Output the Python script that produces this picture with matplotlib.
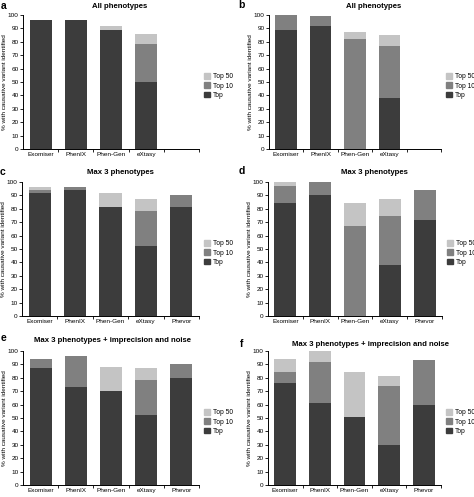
import matplotlib
matplotlib.use("Agg")
import matplotlib.pyplot as plt
from matplotlib.patches import Patch

plt.rcParams['font.family'] = ['Liberation Sans', 'DejaVu Sans']

# ---- data (cumulative % identified) ----
tools4 = ["Exomiser", "PhenIX", "Phen-Gen", "eXtasy"]
tools5 = ["Exomiser", "PhenIX", "Phen-Gen", "eXtasy", "Phevor"]

a_top   = [96, 96, 89, 50]
a_top10 = [96, 96, 89, 78]
a_top50 = [96, 96, 92, 86]

b_top   = [89, 92, 0, 38]
b_top10 = [100, 99, 82, 77]
b_top50 = [100, 99, 87, 85]

c_top   = [92, 94, 81, 52, 81]
c_top10 = [94, 96, 81, 78, 90]
c_top50 = [96, 96.5, 92, 87, 90]

d_top   = [84, 90, 0, 38, 72]
d_top10 = [97, 100, 67, 75, 94]
d_top50 = [100, 100, 84, 87, 94]

e_top   = [87, 73, 70, 52, 80]
e_top10 = [94, 96, 70, 78, 90]
e_top50 = [94, 96, 88, 87, 90]

f_top   = [76, 61, 51, 30, 60]
f_top10 = [84, 92, 51, 74, 93]
f_top50 = [94, 100, 84, 81, 93]

titles = ["All phenotypes", "All phenotypes",
          "Max 3 phenotypes", "Max 3 phenotypes",
          "Max 3 phenotypes + imprecision and noise",
          "Max 3 phenotypes + imprecision and noise"]
letters = ["a", "b", "c", "d", "e", "f"]
legend_labels = ["Top 50", "Top 10", "Top"]
yticks = list(range(0, 101, 10))

C_TOP = "#3c3c3c"
C_T10 = "#808080"
C_T50 = "#c4c4c4"

W, H = 474, 497
fig = plt.figure(figsize=(W / 100, H / 100), dpi=100)

# axes boxes in pixels: left, right, top(y=100), bottom(y=0)
boxes = [
    (23, 199, 15, 149),
    (269, 441, 15, 149),
    (22, 199, 182, 316),
    (268, 442, 182, 316),
    (23, 199, 351, 485),
    (268, 441, 351, 485),
]
title_pos = [(120, 7), (374, 7), (120, 173), (374, 173), (112, 341), (370, 345)]
letter_pos = [(1, 6), (238, 5), (0, 172), (239, 171), (1, 338), (240, 344)]

panels = [
    (tools4, a_top, a_top10, a_top50),
    (tools4, b_top, b_top10, b_top50),
    (tools5, c_top, c_top10, c_top50),
    (tools5, d_top, d_top10, d_top50),
    (tools5, e_top, e_top10, e_top50),
    (tools5, f_top, f_top10, f_top50),
]

for i, (tools, top, t10, t50) in enumerate(panels):
    l, r, t, b = boxes[i]
    ax = fig.add_axes([l / W, 1 - b / H, (r - l) / W, (b - t) / H])
    x = list(range(len(tools)))
    inc10 = [v10 - v for v, v10 in zip(top, t10)]
    inc50 = [v50 - v10 for v10, v50 in zip(t10, t50)]
    bw = 0.63
    ax.bar(x, top, width=bw, color=C_TOP, linewidth=0)
    ax.bar(x, inc10, bottom=top, width=bw, color=C_T10, linewidth=0)
    ax.bar(x, inc50, bottom=t10, width=bw, color=C_T50, linewidth=0)
    ax.set_xlim(-0.5, 4.5)
    ax.set_ylim(0, 100)
    ax.set_yticks(yticks)
    ax.tick_params(axis='y', labelsize=4.6, length=2, width=0.6, pad=1, direction='out')
    ax.set_xticks(x)
    ax.set_xticklabels(tools, fontsize=4.6)
    ax.set_xticks([k + 0.5 for k in range(5)], minor=True)
    ax.tick_params(axis='x', which='major', length=0, pad=2.5)
    ax.tick_params(axis='x', which='minor', length=2.5, width=0.6, direction='out')
    for s in ('top', 'right'):
        ax.spines[s].set_visible(False)
    for s in ('left', 'bottom'):
        ax.spines[s].set_linewidth(0.7)
    ax.set_ylabel("% with causative variant identified", fontsize=4.6, labelpad=1)
    handles = [Patch(color=C_T50), Patch(color=C_T10), Patch(color=C_TOP)]
    ax.legend(handles, legend_labels, loc='center left', bbox_to_anchor=(1.0, 0.47),
              frameon=False, fontsize=4.8, handlelength=0.9, handleheight=0.9,
              handletextpad=0.5, labelspacing=0.35, borderaxespad=0.3)
    tx, ty = title_pos[i]
    fig.text(tx / W, 1 - ty / H, titles[i], fontsize=5.6, fontweight='bold',
             ha='center', va='center')
    lx, ly = letter_pos[i]
    fig.text(lx / W, 1 - ly / H, letters[i], fontsize=7.5, fontweight='bold',
             ha='left', va='center')

fig.savefig("out.png", dpi=100)
